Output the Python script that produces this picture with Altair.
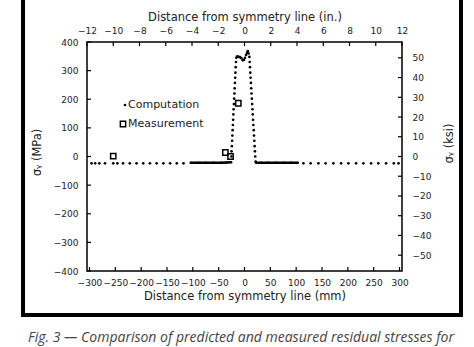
import altair as alt
import pandas as pd

# ---- data ----
comp_x = [-296, -289, -281, -270, -254, -246, -235, -222, -209, -196, -183, -170, -157, -144, -131, -118,
          -104, -90, -75, -60, -45, -35, -26,
          -25.5, -25, -24.5, -24, -23.5, -23, -22.5, -22, -21.5, -21, -20.5, -20, -19.5, -19, -18.5, -18,
          -17.5, -17, -16.5, -16,
          -14, -11, -8.5, -6, -3, -1, 1, 3, 5, 6.5, 8, 9.5,
          10, 10.6, 11.2, 11.8, 12.4, 13, 13.6, 14.2, 14.8, 15.4, 16, 16.6, 17.2, 17.8, 18.4, 19, 19.6,
          20.2, 20.8, 21.5,
          23, 32, 45, 60, 75, 90, 103,
          114, 128, 143, 157, 172, 187, 201, 216, 230, 245, 259, 274, 289, 298]
comp_y = [-24, -24, -24, -24, -24, -24, -24, -24, -24, -24, -24, -24, -24, -24, -24, -24,
          -22, -22, -22, -22, -22, -21, -20,
          0, 18, 36, 55, 73, 92, 110, 128, 147, 165, 183, 202, 220, 238, 257, 275,
          293, 312, 330, 345,
          350, 348, 347, 343, 336, 338, 345, 355, 362, 368, 360, 348,
          330, 312, 293, 275, 257, 238, 220, 202, 183, 165, 147, 128, 110, 92, 73, 55, 36,
          18, 0, -18,
          -22, -22, -22, -22, -22, -22, -22,
          -24, -24, -24, -24, -24, -24, -24, -24, -24, -24, -24, -24, -24, -24]

meas_x = [-254, -37, -27, -12]
meas_y = [1, 14, 0, 186]

mm_ticks = [-300, -250, -200, -150, -100, -50, 0, 50, 100, 150, 200, 250, 300]
mpa_ticks = [-400, -300, -200, -100, 0, 100, 200, 300, 400]
inch_ticks = [-12, -10, -8, -6, -4, -2, 0, 2, 4, 6, 8, 10, 12]
ksi_ticks = [-50, -40, -30, -20, -10, 0, 10, 20, 30, 40, 50]

MM_PER_IN = 25.4
MPA_PER_KSI = 6.895

caption = "Fig. 3 \u2014 Comparison of predicted and measured residual stresses for"

# ---- tables ----
comp_df = pd.DataFrame({"x": comp_x, "y": comp_y})
meas_df = pd.DataFrame({"x": meas_x, "y": meas_y})
mm_df = pd.DataFrame({"v": mm_ticks})
mpa_df = pd.DataFrame({"v": mpa_ticks})
in_df = pd.DataFrame({"inch": inch_ticks})
ksi_df = pd.DataFrame({"ksi": ksi_ticks})
one = pd.DataFrame({"a": [0]})

W, H = 315, 229
FONT = "DejaVu Sans"
TXT = "#222222"

xs = alt.Scale(domain=[-304.8, 304.8], nice=False, zero=False)
ys = alt.Scale(domain=[-400, 400], nice=False, zero=False)

common_axis = dict(domain=False, ticks=False, grid=False, labelFont=FONT, labelFontSize=9,
                   titleFont=FONT, titleFontSize=11.5, titleFontWeight="normal",
                   labelColor=TXT, titleColor=TXT, labelFlush=False, labelOverlap=False,
                   labelBound=False)

comp_points = alt.Chart(comp_df).mark_circle(size=7, color="black", opacity=1).encode(
    x=alt.X("x:Q", scale=xs, axis=alt.Axis(orient="bottom", values=mm_ticks,
                                           title="Distance from symmetry line (mm)",
                                           labelPadding=7, titlePadding=3, **common_axis)),
    y=alt.Y("y:Q", scale=ys, axis=alt.Axis(orient="left", values=mpa_ticks,
                                           title="\u03c3\u1d67 (MPa)", labelPadding=9,
                                           titleAngle=270, titleBaseline="middle",
                                           titleX=-50, titleY=110, **common_axis)),
)

comp_line = (
    alt.Chart(comp_df)
    .transform_filter("datum.y < 0 && abs(datum.x) <= 105")
    .transform_calculate(side="datum.x < 0 ? 'L' : 'R'")
    .mark_line(color="black", strokeWidth=2.5)
    .encode(x=alt.X("x:Q", scale=xs, axis=None), y=alt.Y("y:Q", scale=ys, axis=None),
            detail="side:N")
)

meas = alt.Chart(meas_df).mark_point(shape="square", filled=False, size=28, strokeWidth=1.5,
                                     color="black", opacity=1).encode(
    x=alt.X("x:Q", scale=xs, axis=None), y=alt.Y("y:Q", scale=ys, axis=None))

bottom_ticks = alt.Chart(mm_df).mark_rule(color="black", strokeWidth=1.2).encode(
    x=alt.X("v:Q", scale=xs, axis=None), y=alt.value(H), y2=alt.value(H - 4))

left_ticks = alt.Chart(mpa_df).mark_rule(color="black", strokeWidth=1.2).encode(
    y=alt.Y("v:Q", scale=ys, axis=None), x=alt.value(0), x2=alt.value(4))

top_ticks = (
    alt.Chart(in_df)
    .transform_calculate(v=f"datum.inch * {MM_PER_IN}")
    .mark_rule(color="black", strokeWidth=1.2)
    .encode(
        x=alt.X("v:Q", scale=xs, axis=alt.Axis(
            orient="top", values=[i * MM_PER_IN for i in inch_ticks],
            labelExpr=f"format(round(datum.value / {MM_PER_IN}), 'd')",
            title="Distance from symmetry line (in.)", labelPadding=7, titlePadding=4,
            **common_axis)),
        y=alt.value(0), y2=alt.value(4))
)

right_ticks = (
    alt.Chart(ksi_df)
    .transform_calculate(v=f"datum.ksi * {MPA_PER_KSI}")
    .mark_rule(color="black", strokeWidth=1.2)
    .encode(
        y=alt.Y("v:Q", scale=ys, axis=alt.Axis(
            orient="right", values=[k * MPA_PER_KSI for k in ksi_ticks],
            labelExpr=f"format(round(datum.value / {MPA_PER_KSI}), 'd')",
            title="\u03c3\u1d67 (ksi)", labelPadding=10, titleAngle=270,
            titleBaseline="middle", titleX=47, titleY=101, **common_axis)),
        x=alt.value(W), x2=alt.value(W - 4))
)

leg_dot = alt.Chart(one).mark_circle(size=7, color="black", opacity=1).encode(
    x=alt.value(38), y=alt.value(63))
leg_sq = alt.Chart(one).mark_point(shape="square", filled=False, size=28, strokeWidth=1.5,
                                   color="black", opacity=1).encode(
    x=alt.value(36), y=alt.value(82))
leg_t1 = alt.Chart(one).mark_text(align="left", baseline="middle", font=FONT, fontSize=11,
                                  color=TXT).encode(
    x=alt.value(41), y=alt.value(63), text=alt.value("Computation"))
leg_t2 = alt.Chart(one).mark_text(align="left", baseline="middle", font=FONT, fontSize=11,
                                  color=TXT).encode(
    x=alt.value(41), y=alt.value(82), text=alt.value("Measurement"))

frame = alt.Chart(one).mark_rect(fillOpacity=0, stroke="black", strokeWidth=4).encode(
    x=alt.value(-64), x2=alt.value(374), y=alt.value(-80), y2=alt.value(273))

cap = alt.Chart(one).mark_text(align="left", baseline="alphabetic", font="Open Sans",
                               fontStyle="italic", fontSize=14, color="#444444").encode(
    x=alt.value(-59), y=alt.value(300), text=alt.value(caption))

chart = (
    alt.layer(comp_line, comp_points, meas, bottom_ticks, left_ticks, top_ticks, right_ticks,
              leg_dot, leg_sq, leg_t1, leg_t2, frame, cap)
    .resolve_axis(x="independent", y="independent")
    .properties(width=W, height=H,
                autosize=alt.AutoSizeParams(type="none"),
                padding={"left": 87, "top": 42, "right": 72, "bottom": 76},
                background="white")
    .configure_view(stroke="black", strokeWidth=1.5)
)

chart.save("out.html", embed_options={"renderer": "svg", "actions": False})
